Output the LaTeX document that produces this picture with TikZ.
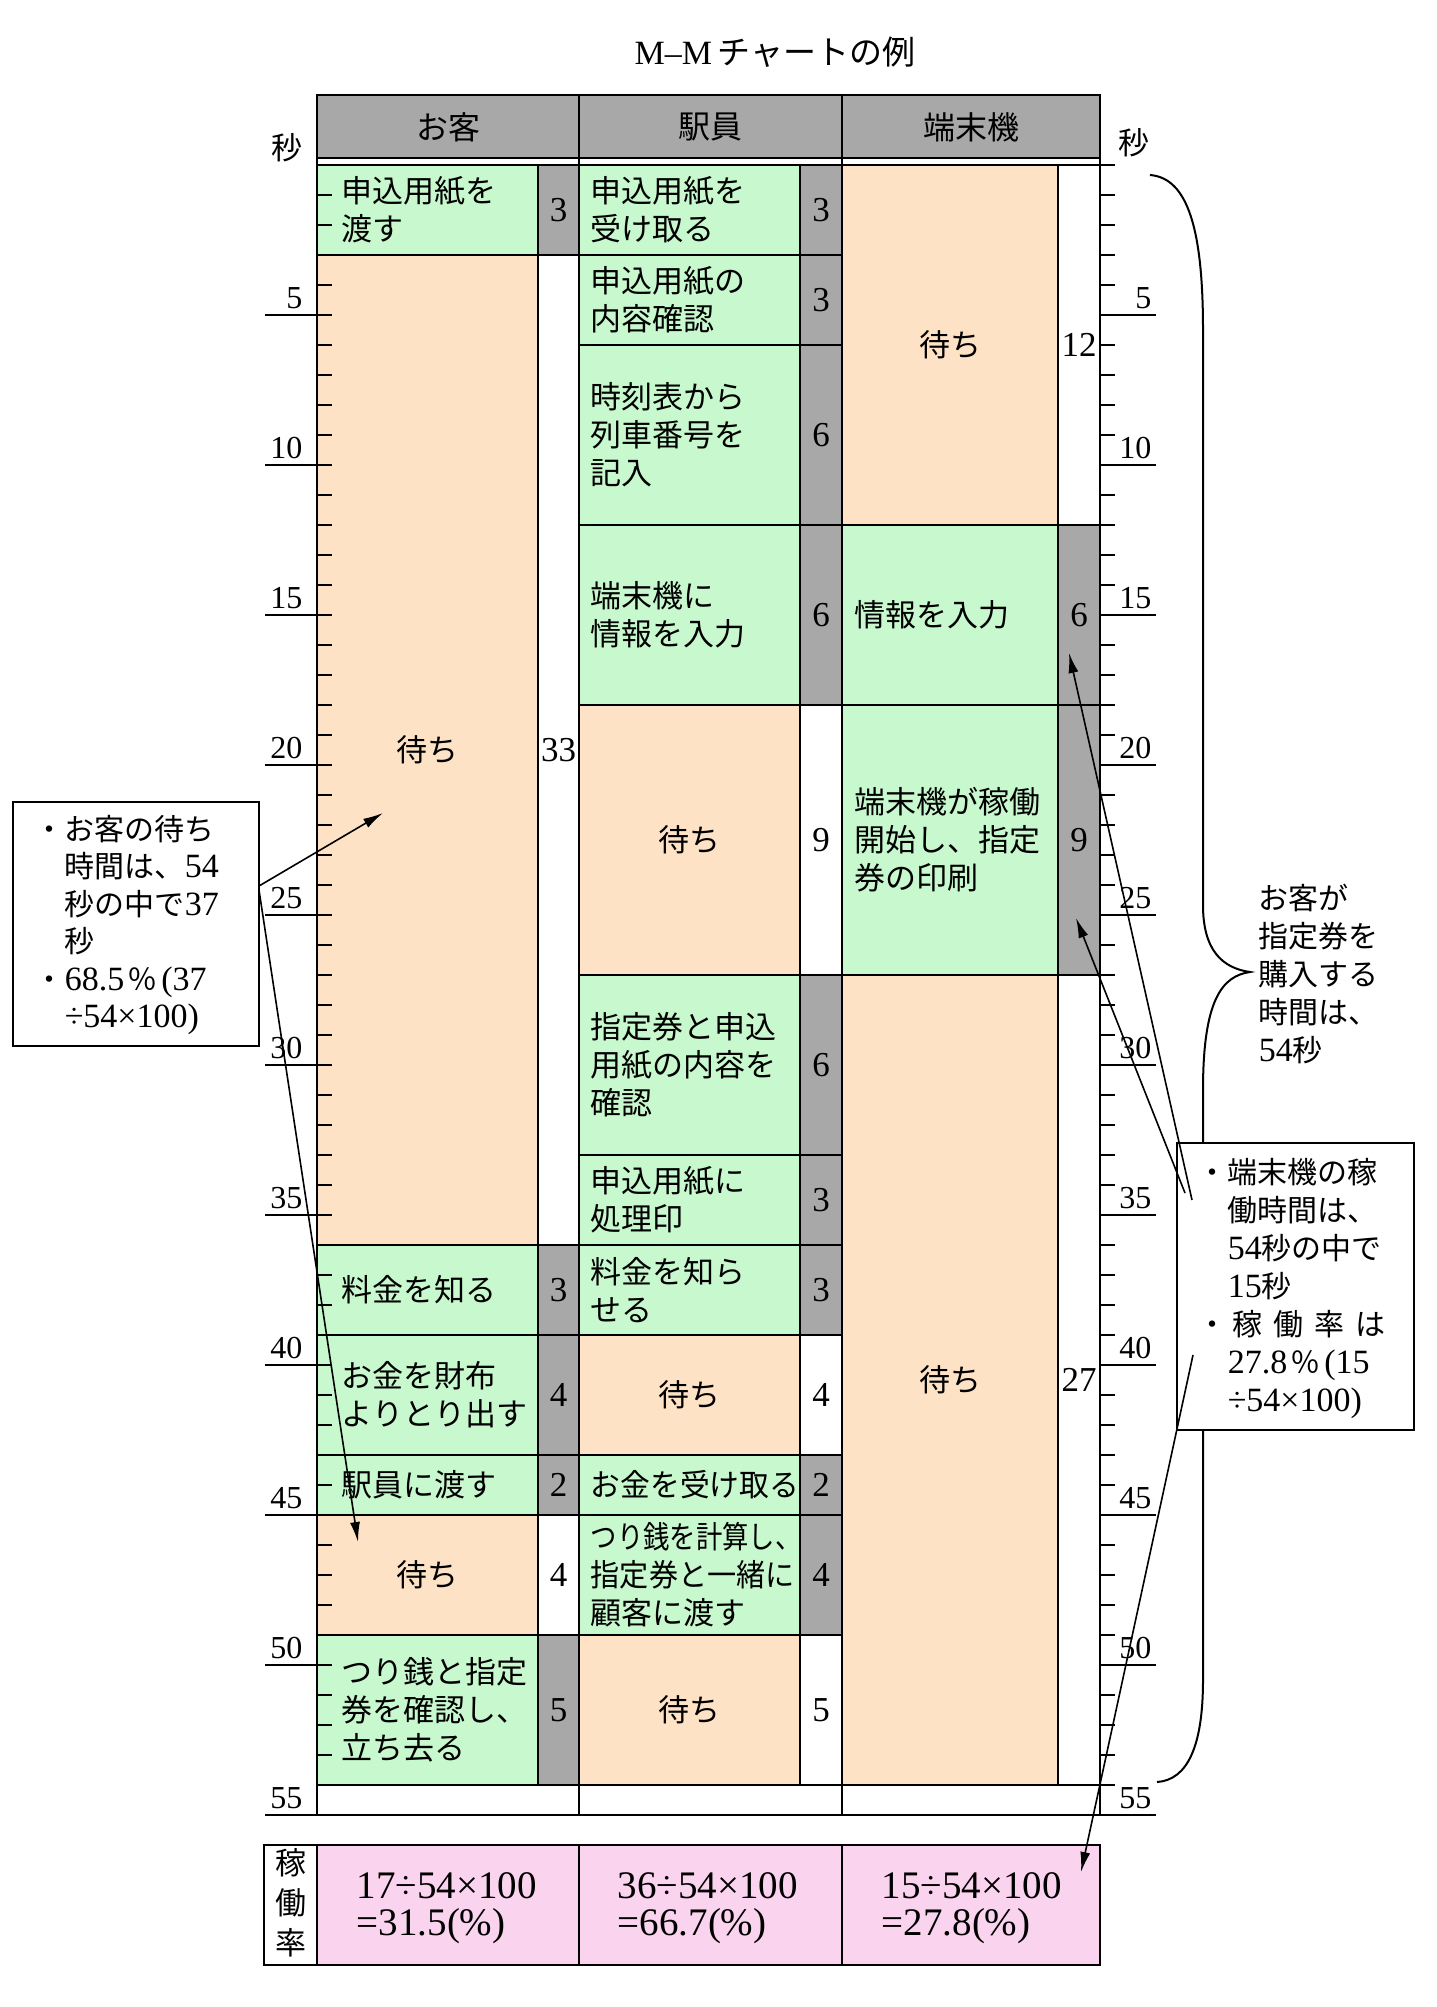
\documentclass[tikz,border=0pt]{standalone}
\usepackage{fontspec}
\usepackage{graphicx}
\setmainfont{Liberation Serif}
\newfontfamily\cjk{Noto Sans CJK JP}
\usetikzlibrary{arrows.meta}
\definecolor{mmgreen}{RGB}{200,248,206}
\definecolor{mmpeach}{RGB}{253,226,198}
\definecolor{mmpink}{RGB}{250,212,238}
\definecolor{mmgray}{RGB}{168,168,168}
\newcommand\numf[1]{{\fontsize{34}{37}\selectfont\rmfamily #1}}
\tikzset{
  cellwork/.style={draw=black, fill=mmgreen},
  cellwait/.style={draw=black, fill=mmpeach},
  stripbusy/.style={draw=black, fill=mmgray},
  stripidle/.style={draw=black, fill=white},
  jt/.style={font=\fontsize{31}{38}\selectfont\cjk, align=left, anchor=west, inner sep=0pt},
  jc/.style={font=\fontsize{31}{38}\selectfont\cjk, anchor=center, inner sep=0pt},
  nm/.style={font=\fontsize{35}{36}\selectfont\rmfamily, inner sep=0pt},
  axl/.style={font=\fontsize{32}{34}\selectfont\rmfamily, inner sep=0pt, anchor=base east},
  cl/.style={font=\fontsize{30}{37.5}\selectfont\cjk, align=left, anchor=west, inner sep=0pt},
  fm/.style={font=\fontsize{39}{37}\selectfont\rmfamily, align=left, anchor=west, inner sep=0pt},
  ptr/.style={line width=1.6pt, -{Latex[length=20pt,width=10pt]}},
  callbox/.style={draw=black, fill=white, line width=1.5pt, inner sep=0pt},
}
\begin{document}
\begin{tikzpicture}[x=1pt, y=-1pt, line width=1.5pt]
\useasboundingbox[fill=white] (0,0) rectangle (1437,2007);

% title
\node[font=\fontsize{33}{36}\selectfont\cjk, inner sep=0pt] (title) at (775,52) {\numf{M–M}\,チャートの例};

% header
\draw[fill=mmgray] (317,95) rectangle (1100,158);
\draw (579,95) -- (579,158);
\draw (842,95) -- (842,158);
\node[font=\fontsize{32}{34}\selectfont\cjk, inner sep=0pt] (h1) at (448,127) {お客};
\node[font=\fontsize{32}{34}\selectfont\cjk, inner sep=0pt] (h2) at (710,127) {駅員};
\node[font=\fontsize{32}{34}\selectfont\cjk, inner sep=0pt] (h3) at (971,127) {端末機};
\node[jc] (secl) at (287,148) {秒};
\node[jc] (secr) at (1134,143) {秒};

% ---------- customer ----------
\draw[cellwork] (317,165) rectangle (538,255);
\draw[stripbusy] (538,165) rectangle (579,255);
\node[jt] (c1) at (341,210) {申込用紙を\\渡す};
\node[nm] (c1n) at (558.5,210) {3};

\draw[cellwait] (317,255) rectangle (538,1245);
\draw[stripidle] (538,255) rectangle (579,1245);
\node[jc] (c2) at (427.5,750) {待ち};
\node[nm] (c2n) at (558.5,750) {33};

\draw[cellwork] (317,1245) rectangle (538,1335);
\draw[stripbusy] (538,1245) rectangle (579,1335);
\node[jt] (c3) at (341,1290) {料金を知る};
\node[nm] (c3n) at (558.5,1290) {3};

\draw[cellwork] (317,1335) rectangle (538,1455);
\draw[stripbusy] (538,1335) rectangle (579,1455);
\node[jt] (c4) at (341,1395) {お金を財布\\よりとり出す};
\node[nm] (c4n) at (558.5,1395) {4};

\draw[cellwork] (317,1455) rectangle (538,1515);
\draw[stripbusy] (538,1455) rectangle (579,1515);
\node[jt] (c5) at (341,1485) {駅員に渡す};
\node[nm] (c5n) at (558.5,1485) {2};

\draw[cellwait] (317,1515) rectangle (538,1635);
\draw[stripidle] (538,1515) rectangle (579,1635);
\node[jc] (c6) at (427.5,1575) {待ち};
\node[nm] (c6n) at (558.5,1575) {4};

\draw[cellwork] (317,1635) rectangle (538,1785);
\draw[stripbusy] (538,1635) rectangle (579,1785);
\node[jt] (c7) at (341,1710) {つり銭と指定\\券を確認し、\\立ち去る};
\node[nm] (c7n) at (558.5,1710) {5};

% ---------- station ----------
\draw[cellwork] (579,165) rectangle (800,255);
\draw[stripbusy] (800,165) rectangle (842,255);
\node[jt] (s1) at (590,210) {申込用紙を\\受け取る};
\node[nm] (s1n) at (821,210) {3};

\draw[cellwork] (579,255) rectangle (800,345);
\draw[stripbusy] (800,255) rectangle (842,345);
\node[jt] (s2) at (590,300) {申込用紙の\\内容確認};
\node[nm] (s2n) at (821,300) {3};

\draw[cellwork] (579,345) rectangle (800,525);
\draw[stripbusy] (800,345) rectangle (842,525);
\node[jt] (s3) at (590,435) {時刻表から\\列車番号を\\記入};
\node[nm] (s3n) at (821,435) {6};

\draw[cellwork] (579,525) rectangle (800,705);
\draw[stripbusy] (800,525) rectangle (842,705);
\node[jt] (s4) at (590,615) {端末機に\\情報を入力};
\node[nm] (s4n) at (821,615) {6};

\draw[cellwait] (579,705) rectangle (800,975);
\draw[stripidle] (800,705) rectangle (842,975);
\node[jc] (s5) at (689.5,840) {待ち};
\node[nm] (s5n) at (821,840) {9};

\draw[cellwork] (579,975) rectangle (800,1155);
\draw[stripbusy] (800,975) rectangle (842,1155);
\node[jt] (s6) at (590,1065) {指定券と申込\\用紙の内容を\\確認};
\node[nm] (s6n) at (821,1065) {6};

\draw[cellwork] (579,1155) rectangle (800,1245);
\draw[stripbusy] (800,1155) rectangle (842,1245);
\node[jt] (s7) at (590,1200) {申込用紙に\\処理印};
\node[nm] (s7n) at (821,1200) {3};

\draw[cellwork] (579,1245) rectangle (800,1335);
\draw[stripbusy] (800,1245) rectangle (842,1335);
\node[jt] (s8) at (590,1290) {料金を知ら\\せる};
\node[nm] (s8n) at (821,1290) {3};

\draw[cellwait] (579,1335) rectangle (800,1455);
\draw[stripidle] (800,1335) rectangle (842,1455);
\node[jc] (s9) at (689.5,1395) {待ち};
\node[nm] (s9n) at (821,1395) {4};

\draw[cellwork] (579,1455) rectangle (800,1515);
\draw[stripbusy] (800,1455) rectangle (842,1515);
\node[jt] (s10) at (590,1485) {\scalebox{0.96}[1]{お金を受け取る}};
\node[nm] (s10n) at (821,1485) {2};

\draw[cellwork] (579,1515) rectangle (800,1635);
\draw[stripbusy] (800,1515) rectangle (842,1635);
\node[jt] (s11) at (590,1575) {\scalebox{0.85}[1]{つり銭を計算し、}\\\scalebox{0.94}[1]{指定券と一緒に}\\顧客に渡す};
\node[nm] (s11n) at (821,1575) {4};

\draw[cellwait] (579,1635) rectangle (800,1785);
\draw[stripidle] (800,1635) rectangle (842,1785);
\node[jc] (s12) at (689.5,1710) {待ち};
\node[nm] (s12n) at (821,1710) {5};

% ---------- terminal ----------
\draw[cellwait] (842,165) rectangle (1058,525);
\draw[stripidle] (1058,165) rectangle (1100,525);
\node[jc] (t1) at (950,345) {待ち};
\node[nm] (t1n) at (1079,345) {12};

\draw[cellwork] (842,525) rectangle (1058,705);
\draw[stripbusy] (1058,525) rectangle (1100,705);
\node[jt] (t2) at (854,615) {情報を入力};
\node[nm] (t2n) at (1079,615) {6};

\draw[cellwork] (842,705) rectangle (1058,975);
\draw[stripbusy] (1058,705) rectangle (1100,975);
\node[jt] (t3) at (854,840) {端末機が稼働\\開始し、指定\\券の印刷};
\node[nm] (t3n) at (1079,840) {9};

\draw[cellwait] (842,975) rectangle (1058,1785);
\draw[stripidle] (1058,975) rectangle (1100,1785);
\node[jc] (t4) at (950,1380) {待ち};
\node[nm] (t4n) at (1079,1380) {27};

% ---------- frame and axes ----------
\foreach \xx in {317,579,842,1100} { \draw (\xx,158) -- (\xx,1815); }
\draw (317,165) -- (1115,165);
\foreach \t in {1,...,54} {
  \draw (317,165+30*\t) -- (332,165+30*\t);
  \draw (1100,165+30*\t) -- (1115,165+30*\t);
}
\foreach \t in {5,10,...,50} {
  \draw (265,165+30*\t) -- (332,165+30*\t);
  \draw (1100,165+30*\t) -- (1156,165+30*\t);
}
\draw (265,1815) -- (1156,1815);
\foreach \t in {5,10,...,55} {
  \node[axl] (axl\t) at (303,158+30*\t) {\t};
  \node[axl] (axr\t) at (1152,158+30*\t) {\t};
}

% ---------- utilisation row ----------
\draw[fill=white] (264,1845) rectangle (317,1965);
\draw[fill=mmpink] (317,1845) rectangle (579,1965);
\draw[fill=mmpink] (579,1845) rectangle (842,1965);
\draw[fill=mmpink] (842,1845) rectangle (1100,1965);
\node[font=\fontsize{31}{40}\selectfont\cjk, align=center, inner sep=0pt] (rate) at (291,1903) {稼\\働\\率};
\node[fm] (f1) at (356,1908) {17÷54×100\\=31.5(\%)};
\node[fm] (f2) at (617,1908) {36÷54×100\\=66.7(\%)};
\node[fm] (f3) at (881,1908) {15÷54×100\\=27.8(\%)};

% ---------- brace ----------
\draw[line width=2pt] (1150,175) .. controls (1188,178) and (1203,230) .. (1203,330)
  -- (1203,905) .. controls (1203,950) and (1222,968) .. (1250,972)
  .. controls (1222,976) and (1203,1000) .. (1203,1090)
  -- (1203,1680) .. controls (1203,1745) and (1188,1780) .. (1157,1782);
\node[cl, font=\fontsize{30}{38}\selectfont\cjk] (total) at (1258,974) {お客が\\指定券を\\購入する\\時間は、\\\numf{54}秒};

% ---------- callouts ----------
\node[callbox, minimum width=246pt, minimum height=244pt] (lbox) at (136,924) {};
\node[cl] (ltext) at (34,925) {・お客の待ち\\
\hphantom{・}時間は、\numf{54}\\
\hphantom{・}秒の中で\numf{37}\\
\hphantom{・}秒\\
・\numf{68.5}\kern3pt ％\kern4pt\numf{(37}\\
\hphantom{・}\numf{÷54×100)}};

\node[callbox, minimum width=237pt, minimum height=287pt] (rbox) at (1295.5,1286.5) {};
\node[cl, font=\fontsize{30}{38}\selectfont\cjk] (rtext) at (1197,1289) {・端末機の稼\\
\hphantom{・}働時間は、\\
\hphantom{・}\numf{54}秒の中で\\
\hphantom{・}\numf{15}秒\\
・\makebox[158pt][s]{\,稼\hfill 働\hfill 率\hfill は}\\
\hphantom{・}\numf{27.8}\kern3pt ％\kern4pt\numf{(15}\\
\hphantom{・}\numf{÷54×100)}};

% ---------- pointers ----------
\coordinate (lp1) at (259,886);
\coordinate (lp2) at (259,890);
\coordinate (tipc2) at (383,813);
\coordinate (tipc6) at (358,1542);
\coordinate (rp1) at (1192,1200);
\coordinate (rp2) at (1185,1193);
\coordinate (rp3) at (1193,1355);
\coordinate (tipt2) at (1069,653);
\coordinate (tipt3) at (1076,918);
\coordinate (tipf3) at (1081,1872);
\draw[ptr] (lp1) -- (tipc2);
\draw[ptr] (lp2) -- (tipc6);
\draw[ptr] (rp1) -- (tipt2);
\draw[ptr] (rp2) -- (tipt3);
\draw[ptr] (rp3) -- (tipf3);
\end{tikzpicture}
\end{document}
